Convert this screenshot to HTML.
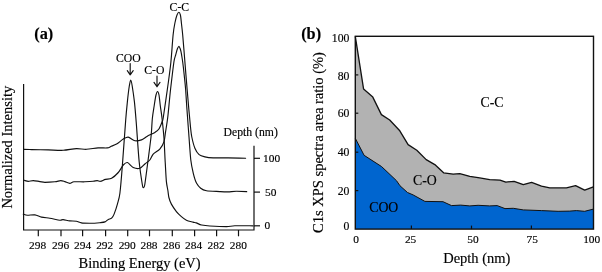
<!DOCTYPE html>
<html><head><meta charset="utf-8"><title>XPS depth profile</title>
<style>
html,body{margin:0;padding:0;background:#fff;}
svg{display:block;font-family:"Liberation Serif",serif;}
text{fill:#000;stroke:#000;stroke-width:0.15px;}
.ln{fill:none;stroke:#111;stroke-width:1.15;stroke-linejoin:round;stroke-linecap:round;}
.ax{fill:none;stroke:#111;stroke-width:1.2;}
.fr{fill:none;stroke:#111;stroke-width:1.4;}
.t11{font-size:11.4px;}
.t11b{font-size:11.7px;}
.t12{font-size:11.7px;}
.t13{font-size:13.8px;}
.t14{font-size:14.5px;}
.b{font-weight:bold;font-size:16.3px;}
</style></head><body>
<svg width="602" height="272" viewBox="0 0 602 272">
<rect width="602" height="272" fill="#fff"/>
<text class="b" x="34.3" y="38.8">(a)</text>
<text class="t14" transform="translate(12.0,208.6) rotate(-90)">Normalized Intensity</text>
<path class="ax" d="M23.6,84 V230 H254 V145.8"/>
<path class="ax" d="M38.3,230 V236.3"/><path class="ax" d="M61,230 V236.3"/><path class="ax" d="M82.6,230 V236.3"/><path class="ax" d="M105.6,230 V236.3"/><path class="ax" d="M127.7,230 V236.3"/><path class="ax" d="M149.5,230 V236.3"/><path class="ax" d="M172.3,230 V236.3"/><path class="ax" d="M194.6,230 V236.3"/><path class="ax" d="M216.6,230 V236.3"/><path class="ax" d="M238.5,230 V236.3"/>
<text class="t11" x="37.6" y="249.3" text-anchor="middle">298</text><text class="t11" x="60.6" y="249.3" text-anchor="middle">296</text><text class="t11" x="82.6" y="249.3" text-anchor="middle">294</text><text class="t11" x="104.7" y="249.3" text-anchor="middle">292</text><text class="t11" x="127.2" y="249.3" text-anchor="middle">290</text><text class="t11" x="149" y="249.3" text-anchor="middle">288</text><text class="t11" x="171.6" y="249.3" text-anchor="middle">286</text><text class="t11" x="193.6" y="249.3" text-anchor="middle">284</text><text class="t11" x="216.1" y="249.3" text-anchor="middle">282</text><text class="t11" x="238.3" y="249.3" text-anchor="middle">280</text>
<path class="ax" d="M254,158.3 H260"/><path class="ax" d="M254,192.1 H260"/><path class="ax" d="M254,225.8 H260"/>
<text class="t11" x="263" y="162.4">100</text><text class="t11" x="265" y="196.2">50</text><text class="t11" x="264.6" y="229.2">0</text>
<text class="t12" x="223.6" y="136">Depth (nm)</text>
<text class="t12" x="169.6" y="10.6">C-C</text><text class="t12" x="116" y="61.6">COO</text><text class="t12" x="144.2" y="74.4">C-O</text>
<path class="ln" d="M130.2,63.5 V74.6 M127.3,70.7 L130.2,74.8 L133.2,70.7"/>
<path class="ln" d="M157,76 V86.6 M154,82.4 L157,86.8 L160,82.4"/>
<path class="ln" d="M23.8,149.4 C24.9,149.4 28.1,149.5 31.6,149.6 C35.1,149.7 43.7,149.8 48.2,149.9 C52.7,150.0 59.2,150.5 63.2,150.3 C67.2,150.1 73.2,148.7 76.5,148.6 C79.8,148.5 83.3,149.4 86.4,149.3 C89.5,149.2 95.1,148.1 98.1,147.9 C101.1,147.7 105.3,148.1 107.2,147.9 C109.1,147.7 110.0,146.8 111.3,146.3 C112.6,145.8 114.9,145.1 116.6,144.1 C118.3,143.1 121.6,140.1 123.3,139.1 C125.0,138.1 126.5,136.9 128.2,137.1 C129.9,137.3 133.0,140.4 134.9,140.8 C136.8,141.2 139.8,140.5 141.5,139.9 C143.2,139.3 145.1,137.5 147.0,136.4 C148.9,135.3 153.3,133.5 155.0,132.4 C156.7,131.3 157.8,130.6 158.9,129.0 C160.0,127.4 161.7,122.9 162.4,121.0 C163.1,119.1 162.8,120.6 163.5,116.0 C164.2,111.4 166.3,96.7 167.4,89.0 C168.5,81.3 170.1,69.7 170.9,62.0 C171.7,54.3 172.5,40.6 173.1,35.0 C173.7,29.4 174.3,25.9 174.9,23.0 C175.5,20.1 176.4,16.5 177.0,15.0 C177.6,13.5 178.4,12.2 178.9,12.2 C179.4,12.2 180.0,13.5 180.4,15.0 C180.8,16.5 181.1,20.1 181.4,23.0 C181.7,25.9 182.2,29.4 182.7,35.0 C183.2,40.6 184.3,54.3 184.9,62.0 C185.5,69.7 186.5,82.1 187.1,89.0 C187.7,95.9 188.4,104.9 188.9,110.0 C189.4,115.1 189.9,121.1 190.3,125.0 C190.7,128.9 191.1,133.7 191.8,137.0 C192.5,140.3 193.9,145.8 194.9,148.3 C195.9,150.8 197.7,153.4 199.1,154.6 C200.5,155.8 202.9,156.4 204.9,156.9 C206.9,157.4 209.9,157.8 213.2,157.9 C216.5,158.0 223.5,157.9 228.1,157.9 C232.7,157.9 243.1,158.2 245.6,158.2"/>
<path class="ln" d="M24.1,180.3 C24.7,180.4 27.0,181.3 28.3,181.3 C29.6,181.3 31.6,180.6 33.3,180.6 C35.0,180.6 38.2,181.4 39.9,181.6 C41.6,181.8 42.8,182.3 44.9,182.3 C47.0,182.3 52.6,182.0 54.9,181.8 C57.2,181.6 59.3,180.6 60.7,180.6 C62.1,180.6 63.5,181.2 64.8,181.6 C66.1,182.0 68.5,183.4 69.8,183.4 C71.1,183.4 71.9,182.0 74.0,181.8 C76.1,181.6 82.1,181.9 84.8,181.8 C87.5,181.7 91.3,181.5 93.1,181.3 C94.9,181.1 96.1,180.6 97.2,180.6 C98.3,180.6 99.3,181.5 100.5,181.3 C101.7,181.1 103.9,179.8 105.5,179.4 C107.1,179.0 109.8,179.3 111.6,178.3 C113.4,177.3 116.6,174.4 118.3,172.5 C120.0,170.6 122.0,166.4 123.3,165.0 C124.6,163.6 126.0,162.1 127.4,162.5 C128.8,162.9 131.4,166.7 133.2,167.5 C135.0,168.3 138.2,168.8 139.9,168.3 C141.6,167.8 143.5,165.2 144.9,164.0 C146.3,162.8 148.6,161.4 149.8,160.0 C151.0,158.6 151.8,155.7 153.2,154.1 C154.6,152.5 158.3,150.9 159.8,149.1 C161.3,147.3 163.2,144.1 164.0,141.6 C164.8,139.1 165.0,135.3 165.6,131.6 C166.2,127.9 167.2,122.1 167.9,116.0 C168.6,109.9 169.7,96.7 170.6,89.0 C171.5,81.3 173.2,66.9 173.9,62.0 C174.6,57.1 175.2,56.8 175.7,54.9 C176.2,53.0 177.0,49.7 177.5,48.5 C178.0,47.3 178.5,46.1 178.9,46.2 C179.3,46.3 179.9,47.8 180.3,49.0 C180.7,50.2 181.3,53.0 181.6,54.9 C181.9,56.8 182.3,59.1 182.7,62.0 C183.1,64.9 183.8,71.1 184.2,75.0 C184.6,78.9 185.2,84.0 185.6,89.0 C186.0,94.0 186.6,104.9 187.0,110.0 C187.4,115.1 187.8,121.1 188.1,125.0 C188.4,128.9 188.6,132.0 189.0,137.0 C189.4,142.0 190.2,154.8 190.8,160.0 C191.4,165.2 192.5,170.0 193.3,173.3 C194.1,176.6 195.5,181.2 196.6,183.3 C197.7,185.4 199.3,187.1 200.7,188.2 C202.1,189.3 203.8,190.2 206.5,190.7 C209.2,191.2 216.7,191.4 219.8,191.6 C222.9,191.8 225.7,192.0 228.1,191.9 C230.5,191.8 233.7,191.2 236.4,191.2 C239.1,191.2 245.2,191.5 246.7,191.6"/>
<path class="ln" d="M23.3,214.1 C23.9,214.3 25.7,215.1 27.4,215.2 C29.1,215.3 32.9,214.6 34.9,214.9 C36.9,215.2 39.4,216.6 41.5,217.1 C43.6,217.6 47.2,217.8 49.8,218.2 C52.4,218.6 57.9,220.0 59.8,220.2 C61.7,220.4 61.7,219.5 63.1,219.6 C64.5,219.7 67.9,220.7 69.8,220.9 C71.7,221.1 74.7,220.9 76.4,221.2 C78.1,221.5 79.5,222.6 81.4,222.9 C83.3,223.2 87.1,223.2 89.7,223.2 C92.3,223.2 97.5,222.9 99.7,222.7 C101.9,222.5 103.8,222.4 105.0,221.9 C106.2,221.4 107.4,219.9 108.3,219.4 C109.2,218.9 110.8,219.0 111.6,218.2 C112.4,217.4 113.3,216.1 114.1,214.1 C114.9,212.1 116.6,207.1 117.4,204.1 C118.2,201.1 119.2,198.9 119.9,193.3 C120.6,187.7 121.6,175.5 122.4,165.0 C123.2,154.5 125.0,129.1 125.7,120.0 C126.4,110.9 126.9,106.5 127.4,101.6 C127.9,96.7 128.8,89.1 129.3,86.0 C129.8,82.9 130.3,80.0 130.7,80.0 C131.1,80.0 131.7,82.9 132.2,86.0 C132.7,89.1 133.8,96.5 134.4,101.6 C135.0,106.7 135.5,113.4 136.2,122.0 C136.9,130.6 138.3,153.1 139.2,162.0 C140.1,170.9 141.7,180.8 142.3,184.5 C142.9,188.2 143.1,187.6 143.5,187.6 C143.9,187.6 144.2,188.0 144.8,184.5 C145.4,181.0 146.8,169.8 147.7,163.0 C148.6,156.2 150.3,143.4 151.0,137.0 C151.7,130.6 151.9,122.6 152.4,118.0 C152.9,113.4 153.8,108.3 154.3,105.0 C154.8,101.7 155.5,96.9 156.0,95.0 C156.5,93.1 157.1,91.5 157.5,91.5 C157.9,91.5 158.6,93.1 159.0,95.0 C159.4,96.9 159.8,101.7 160.2,105.0 C160.6,108.3 161.5,113.4 162.0,118.0 C162.5,122.6 163.4,130.7 163.9,137.0 C164.4,143.3 164.8,155.6 165.2,162.0 C165.6,168.4 166.0,177.6 166.4,181.6 C166.8,185.6 167.4,187.7 167.8,190.0 C168.2,192.3 168.4,195.5 168.9,197.5 C169.4,199.5 170.3,202.1 171.4,204.1 C172.5,206.1 175.0,209.8 176.4,211.6 C177.8,213.4 180.0,215.4 181.4,216.6 C182.8,217.8 184.7,219.4 186.4,220.2 C188.1,221.0 191.6,221.7 193.0,222.1 C194.4,222.5 195.1,222.5 196.3,222.9 C197.5,223.3 199.7,224.6 201.6,225.0 C203.5,225.4 206.3,225.8 209.9,226.0 C213.5,226.2 222.9,226.6 226.5,226.6 C230.1,226.6 231.0,225.9 234.8,225.8 C238.6,225.7 250.5,225.8 253.1,225.8"/>
<text class="b" x="301.2" y="38.8">(b)</text>
<text class="t14" transform="translate(322.6,232.9) rotate(-90)">C1s XPS spectra area ratio (%)</text>
<polygon points="355.3,36.3 363.6,89.1 372.8,97.1 381.4,114.6 389.7,120.0 399.8,130.8 408.1,144.6 416.8,150.2 426.2,159.6 434.8,164.6 443.6,172.8 453.2,174.1 459.8,173.6 469.8,176.3 479.7,177.9 489.7,179.6 500.0,180.1 505.8,182.1 514.1,181.3 523.3,184.6 531.6,182.4 541.5,186.1 549.8,187.9 566.4,187.9 575.6,185.6 584.7,190.2 593.4,186.9 593.4,229.1 355.3,229.1" fill="#b2b2b2"/>
<polygon points="355.3,138.3 364.1,155.3 381.6,166.6 396.5,180.7 400.0,185.8 407.5,192.5 413.1,194.9 424.9,201.4 443.0,201.7 451.5,205.6 460.6,205.1 469.8,205.9 478.1,205.3 489.7,205.9 497.2,205.6 500.0,206.7 505.0,208.6 513.3,208.3 523.3,209.9 541.5,210.6 558.1,211.3 569.8,211.1 576.4,210.6 584.7,211.3 593.4,209.1 593.4,229.1 355.3,229.1" fill="#0065cf"/>
<polyline points="355.3,36.3 363.6,89.1 372.8,97.1 381.4,114.6 389.7,120.0 399.8,130.8 408.1,144.6 416.8,150.2 426.2,159.6 434.8,164.6 443.6,172.8 453.2,174.1 459.8,173.6 469.8,176.3 479.7,177.9 489.7,179.6 500.0,180.1 505.8,182.1 514.1,181.3 523.3,184.6 531.6,182.4 541.5,186.1 549.8,187.9 566.4,187.9 575.6,185.6 584.7,190.2 593.4,186.9" fill="none" stroke="#111" stroke-width="1.3" stroke-linejoin="round"/>
<polyline points="355.3,138.3 364.1,155.3 381.6,166.6 396.5,180.7 400.0,185.8 407.5,192.5 413.1,194.9 424.9,201.4 443.0,201.7 451.5,205.6 460.6,205.1 469.8,205.9 478.1,205.3 489.7,205.9 497.2,205.6 500.0,206.7 505.0,208.6 513.3,208.3 523.3,209.9 541.5,210.6 558.1,211.3 569.8,211.1 576.4,210.6 584.7,211.3 593.4,209.1" fill="none" stroke="#111" stroke-width="1" stroke-linejoin="round"/>
<rect class="fr" x="355.3" y="36.3" width="238.2" height="192.8"/>
<path class="ax" d="M411.4,229.1 V225.6"/><path class="ax" d="M471.5,229.1 V225.6"/><path class="ax" d="M531.4,229.1 V225.6"/><path class="ax" d="M355.3,74.9 H358.3"/><path class="ax" d="M355.3,113.2 H358.3"/><path class="ax" d="M355.3,152.2 H358.3"/><path class="ax" d="M355.3,190.6 H358.3"/>
<text class="t11b" x="349.4" y="41.6" text-anchor="end">100</text><text class="t11b" x="349.4" y="79.5" text-anchor="end">80</text><text class="t11b" x="349.4" y="116.5" text-anchor="end">60</text><text class="t11b" x="349.4" y="156.3" text-anchor="end">40</text><text class="t11b" x="349.4" y="194.8" text-anchor="end">20</text><text class="t11b" x="349.4" y="230.3" text-anchor="end">0</text>
<text class="t11" x="356.2" y="243" text-anchor="middle">0</text><text class="t11" x="410.6" y="243" text-anchor="middle">25</text><text class="t11" x="472.9" y="243" text-anchor="middle">50</text><text class="t11" x="532.3" y="243" text-anchor="middle">75</text><text class="t11" x="591.7" y="243" text-anchor="middle">100</text>
<text class="t13" x="480.5" y="107">C-C</text><text class="t13" x="413" y="184.8">C-O</text><text class="t13" x="369.2" y="212">COO</text>
<text class="t14" x="443.2" y="262.7">Depth (nm)</text>
<text class="t14" x="78.5" y="268.3">Binding Energy (eV)</text>
</svg></body></html>
